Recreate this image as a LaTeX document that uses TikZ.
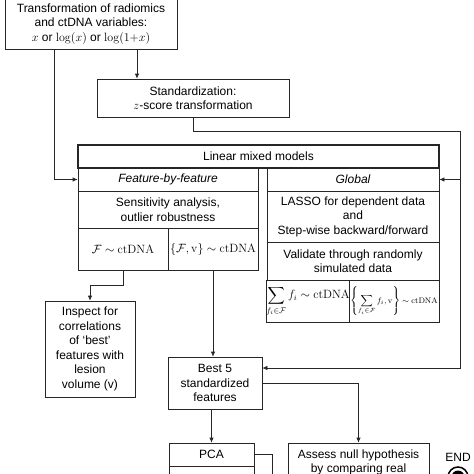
\documentclass[tikz,border=0pt]{standalone}
\usepackage{amsmath}
\usepackage[no-math]{fontspec}
\setmainfont{Liberation Sans}
\usetikzlibrary{positioning,arrows.meta}
\tikzset{
  box/.style={
    draw=black!85,
    line width=0.7pt,
    align=center,
    inner sep=1pt,
    font=\fontsize{12}{14.5}\selectfont
  },
  cell/.style 2 args={box, minimum width=#1, minimum height=#2},
  link/.style={draw=black!85, line width=0.7pt}
}

\begin{document}
\begin{tikzpicture}[x=1pt,y=-1pt,>={Latex[length=5pt,width=4.5pt]}]
\useasboundingbox (0,0) rectangle (474,474);
\clip (0,0) rectangle (474,474);

% preprocessing
\node[cell={172pt}{50pt}] (trans) at (91,24)
  {Transformation of radiomics\\and ctDNA variables:\\$x$ or $\log(x)$ or $\log(1{+}x)$};
\node[cell={192pt}{38pt}] (stand) at (193,98)
  {Standardization:\\$z$-score transformation};

% linear mixed models table
\node[cell={361pt}{23pt}, line width=1.5pt] (lmm) at (258.5,156.5) {Linear mixed models};
\node[cell={180pt}{23pt}] (fbf) at (168,179.5) {\itshape Feature-by-feature};
\node[cell={172pt}{23pt}] (glob) at (353,179.5) {\itshape Global};
\node[cell={180pt}{37pt}] (sens) at (168,209.5) {Sensitivity analysis,\\outlier robustness};
\node[cell={90pt}{42pt}] (fone) at (123,249) {$\mathcal{F}\sim\mathrm{ctDNA}$};
\node[cell={90pt}{42pt}] (ftwo) at (213,249) {$\{\mathcal{F},\mathrm{v}\}\sim\mathrm{ctDNA}$};
\node[cell={172pt}{51pt}] (lasso) at (353,216.5)
  {LASSO for dependent data\\and\\Step-wise backward/forward};
\node[cell={172pt}{38pt}] (valid) at (353,261) {Validate through randomly\\simulated data};
\node[cell={82pt}{42pt}, inner sep=0pt] (sone) at (308,301)
  {$\displaystyle\sum_{f_i\in\mathcal{F}} f_i\sim\mathrm{ctDNA}$};
\node[cell={90pt}{42pt}, font=\footnotesize] (stwo) at (394,301)
  {$\displaystyle\left\{\sum_{f_i\in\mathcal{F}} f_i,\mathrm{v}\right\}\sim\mathrm{ctDNA}$};

% results
\node[cell={90pt}{96pt}] (insp) at (90,349)
  {Inspect for\\correlations\\of `best'\\features with\\lesion\\volume (v)};
\node[cell={94pt}{52pt}] (best) at (215,383) {Best 5\\standardized\\features};
\node[cell={85pt}{23pt}] (pca) at (211.5,454.5) {PCA};
\node[cell={85pt}{30pt}, anchor=north] (pcab) at (pca.south) {};
\node[cell={141pt}{39pt}] (assess) at (358.5,462.5)
  {Assess null hypothesis\\by comparing real};
\node[box, draw=none] (endl) at (458,457) {END};
\node[circle, draw=black, line width=1.5pt, minimum size=20pt] (endc) at (458,477) {};
\fill[black] (endc.center) circle (6.5pt);

% connectors
\coordinate (tone) at ([xshift=-37pt]trans.south);
\coordinate (ttwo) at ([xshift=46pt]trans.south);
\coordinate (rr) at (460,131);
\coordinate (pout) at (272,490);
\draw[link,->] (tone) |- (fbf.west);
\draw[link,->] (ttwo) -- (ttwo |- stand.north);
\draw[link,->] (stand.south) |- (rr) |- ([yshift=15pt]best.east);
\draw[link,->] (rr |- glob.east) -- (glob.east);
\draw[link,->] (fone.south) -- ++(0,15) -| (insp.north);
\draw[link,->] (ftwo.south) -- (ftwo.south |- best.north);
\draw[link,->] (best.east) -| (assess.north);
\draw[link,->] (best.south -| pca.north) -- (pca.north);
\draw[link] (pca.east) -| (pout);
\end{tikzpicture}
\end{document}
